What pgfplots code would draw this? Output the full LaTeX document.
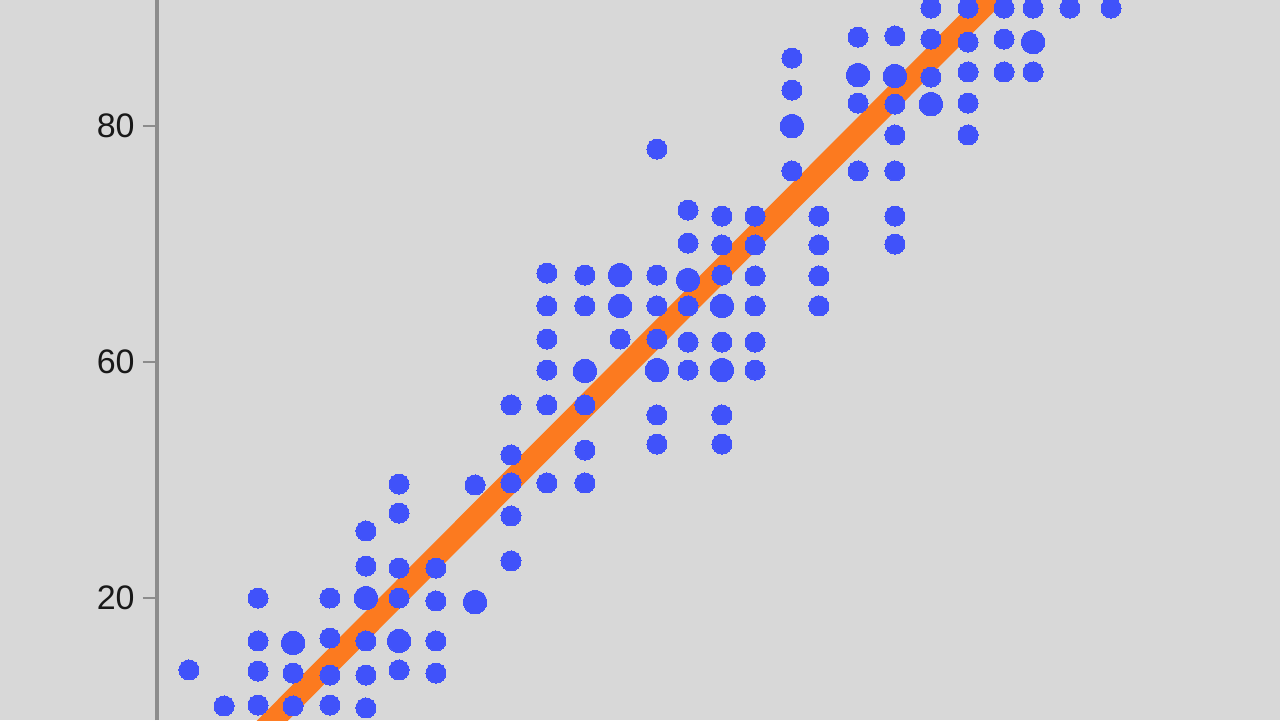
\documentclass[border=0pt]{standalone}
\usepackage{pgfplots}
\pgfplotsset{compat=1.18}
\usepackage{fontspec}
\setmainfont{Liberation Sans}
\definecolor{bg}{RGB}{216,216,216}
\definecolor{dotblue}{RGB}{64,82,250}
\definecolor{lineorange}{RGB}{255,115,18}
\definecolor{axgray}{RGB}{140,140,140}
\begin{document}
\begin{tikzpicture}
\fill[bg] (-78.5pt,0) rectangle (561.5pt,360pt);
\begin{axis}[
  at={(0,0)}, anchor=south west,
  scale only axis, width=561.5pt, height=360pt,
  xmin=0, xmax=95.17, ymin=29.66, ymax=90.68,
  axis x line=none, axis y line=left,
  axis line style={-, draw=axgray, line width=1.6pt},
  ytick={40,60,80}, yticklabels={20,60,80},
  tick align=outside, major tick length=7pt,
  ytick style={draw=axgray, line width=1.3pt},
  yticklabel style={font=\fontsize{17}{17}\selectfont, text=black!90, inner sep=0pt, xshift=-4pt},
  /pgf/number format/assume math mode=true,
  clip=true,
]
\addplot[only marks, mark=*, mark size=5pt, color=dotblue, mark options={line width=0pt}] coordinates {
(2.71,33.90)
(5.68,30.85)
(8.56,40.0) (8.56,36.36) (8.56,33.81) (8.56,30.93)
(11.53,33.64) (11.53,30.85)
(14.66,40.0) (14.66,36.61) (14.66,33.47) (14.66,30.93)
(17.71,45.68) (17.71,42.71) (17.71,36.36) (17.71,33.47) (17.71,30.68)
(20.51,49.66) (20.51,47.20) (20.51,42.54) (20.51,40.0) (20.51,33.90)
(23.64,42.54) (23.64,39.75) (23.64,36.36) (23.64,33.64)
(26.95,49.58)
(30.0,56.36) (30.0,52.12) (30.0,49.75) (30.0,46.95) (30.0,43.14)
(33.05,67.54) (33.05,64.75) (33.05,61.95) (33.05,59.32) (33.05,56.36) (33.05,49.75)
(36.27,67.37) (36.27,64.75) (36.27,56.36) (36.27,52.54) (36.27,49.75)
(39.24,61.95)
(42.37,78.05) (42.37,67.37) (42.37,64.75) (42.37,61.95) (42.37,55.51) (42.37,53.05)
(45.0,72.88) (45.0,70.08) (45.0,64.75) (45.0,61.69) (45.0,59.32)
(47.88,72.37) (47.88,69.92) (47.88,67.37) (47.88,61.69) (47.88,55.51) (47.88,53.05)
(50.68,72.37) (50.68,69.92) (50.68,67.29) (50.68,64.75) (50.68,61.69) (50.68,59.32)
(53.81,85.76) (53.81,83.05) (53.81,76.19)
(56.10,72.37) (56.10,69.92) (56.10,67.29) (56.10,64.75)
(59.41,87.54) (59.41,81.95) (59.41,76.19)
(62.54,87.63) (62.54,81.86) (62.54,79.24) (62.54,76.19) (62.54,72.37) (62.54,70.0)
(65.59,90.0) (65.59,87.37) (65.59,84.15)
(68.73,90.0) (68.73,87.12) (68.73,84.58) (68.73,81.95) (68.73,79.24)
(71.78,90.0) (71.78,87.37) (71.78,84.58)
(74.24,90.0) (74.24,84.58)
(77.37,90.0)
(80.85,90.0)
};
\addplot[only marks, mark=*, mark size=5.9pt, color=dotblue, mark options={line width=0pt}] coordinates {
(11.53,36.19) (17.71,40.0) (20.51,36.36) (26.95,39.66)
(36.27,59.24) (39.24,67.37) (39.24,64.75) (42.37,59.32)
(45.0,66.95) (47.88,64.75) (47.88,59.32)
(53.81,80.0) (59.41,84.32) (62.54,84.24) (65.59,81.86) (74.24,87.12)
};
\addplot[draw=lineorange, line width=11pt, opacity=0.93] coordinates {(5,24.8) (75,95.1)};
\end{axis}
\pgfresetboundingbox
\path[use as bounding box] (-78.5pt,0) rectangle (561.5pt,360pt);
\end{tikzpicture}
\end{document}
